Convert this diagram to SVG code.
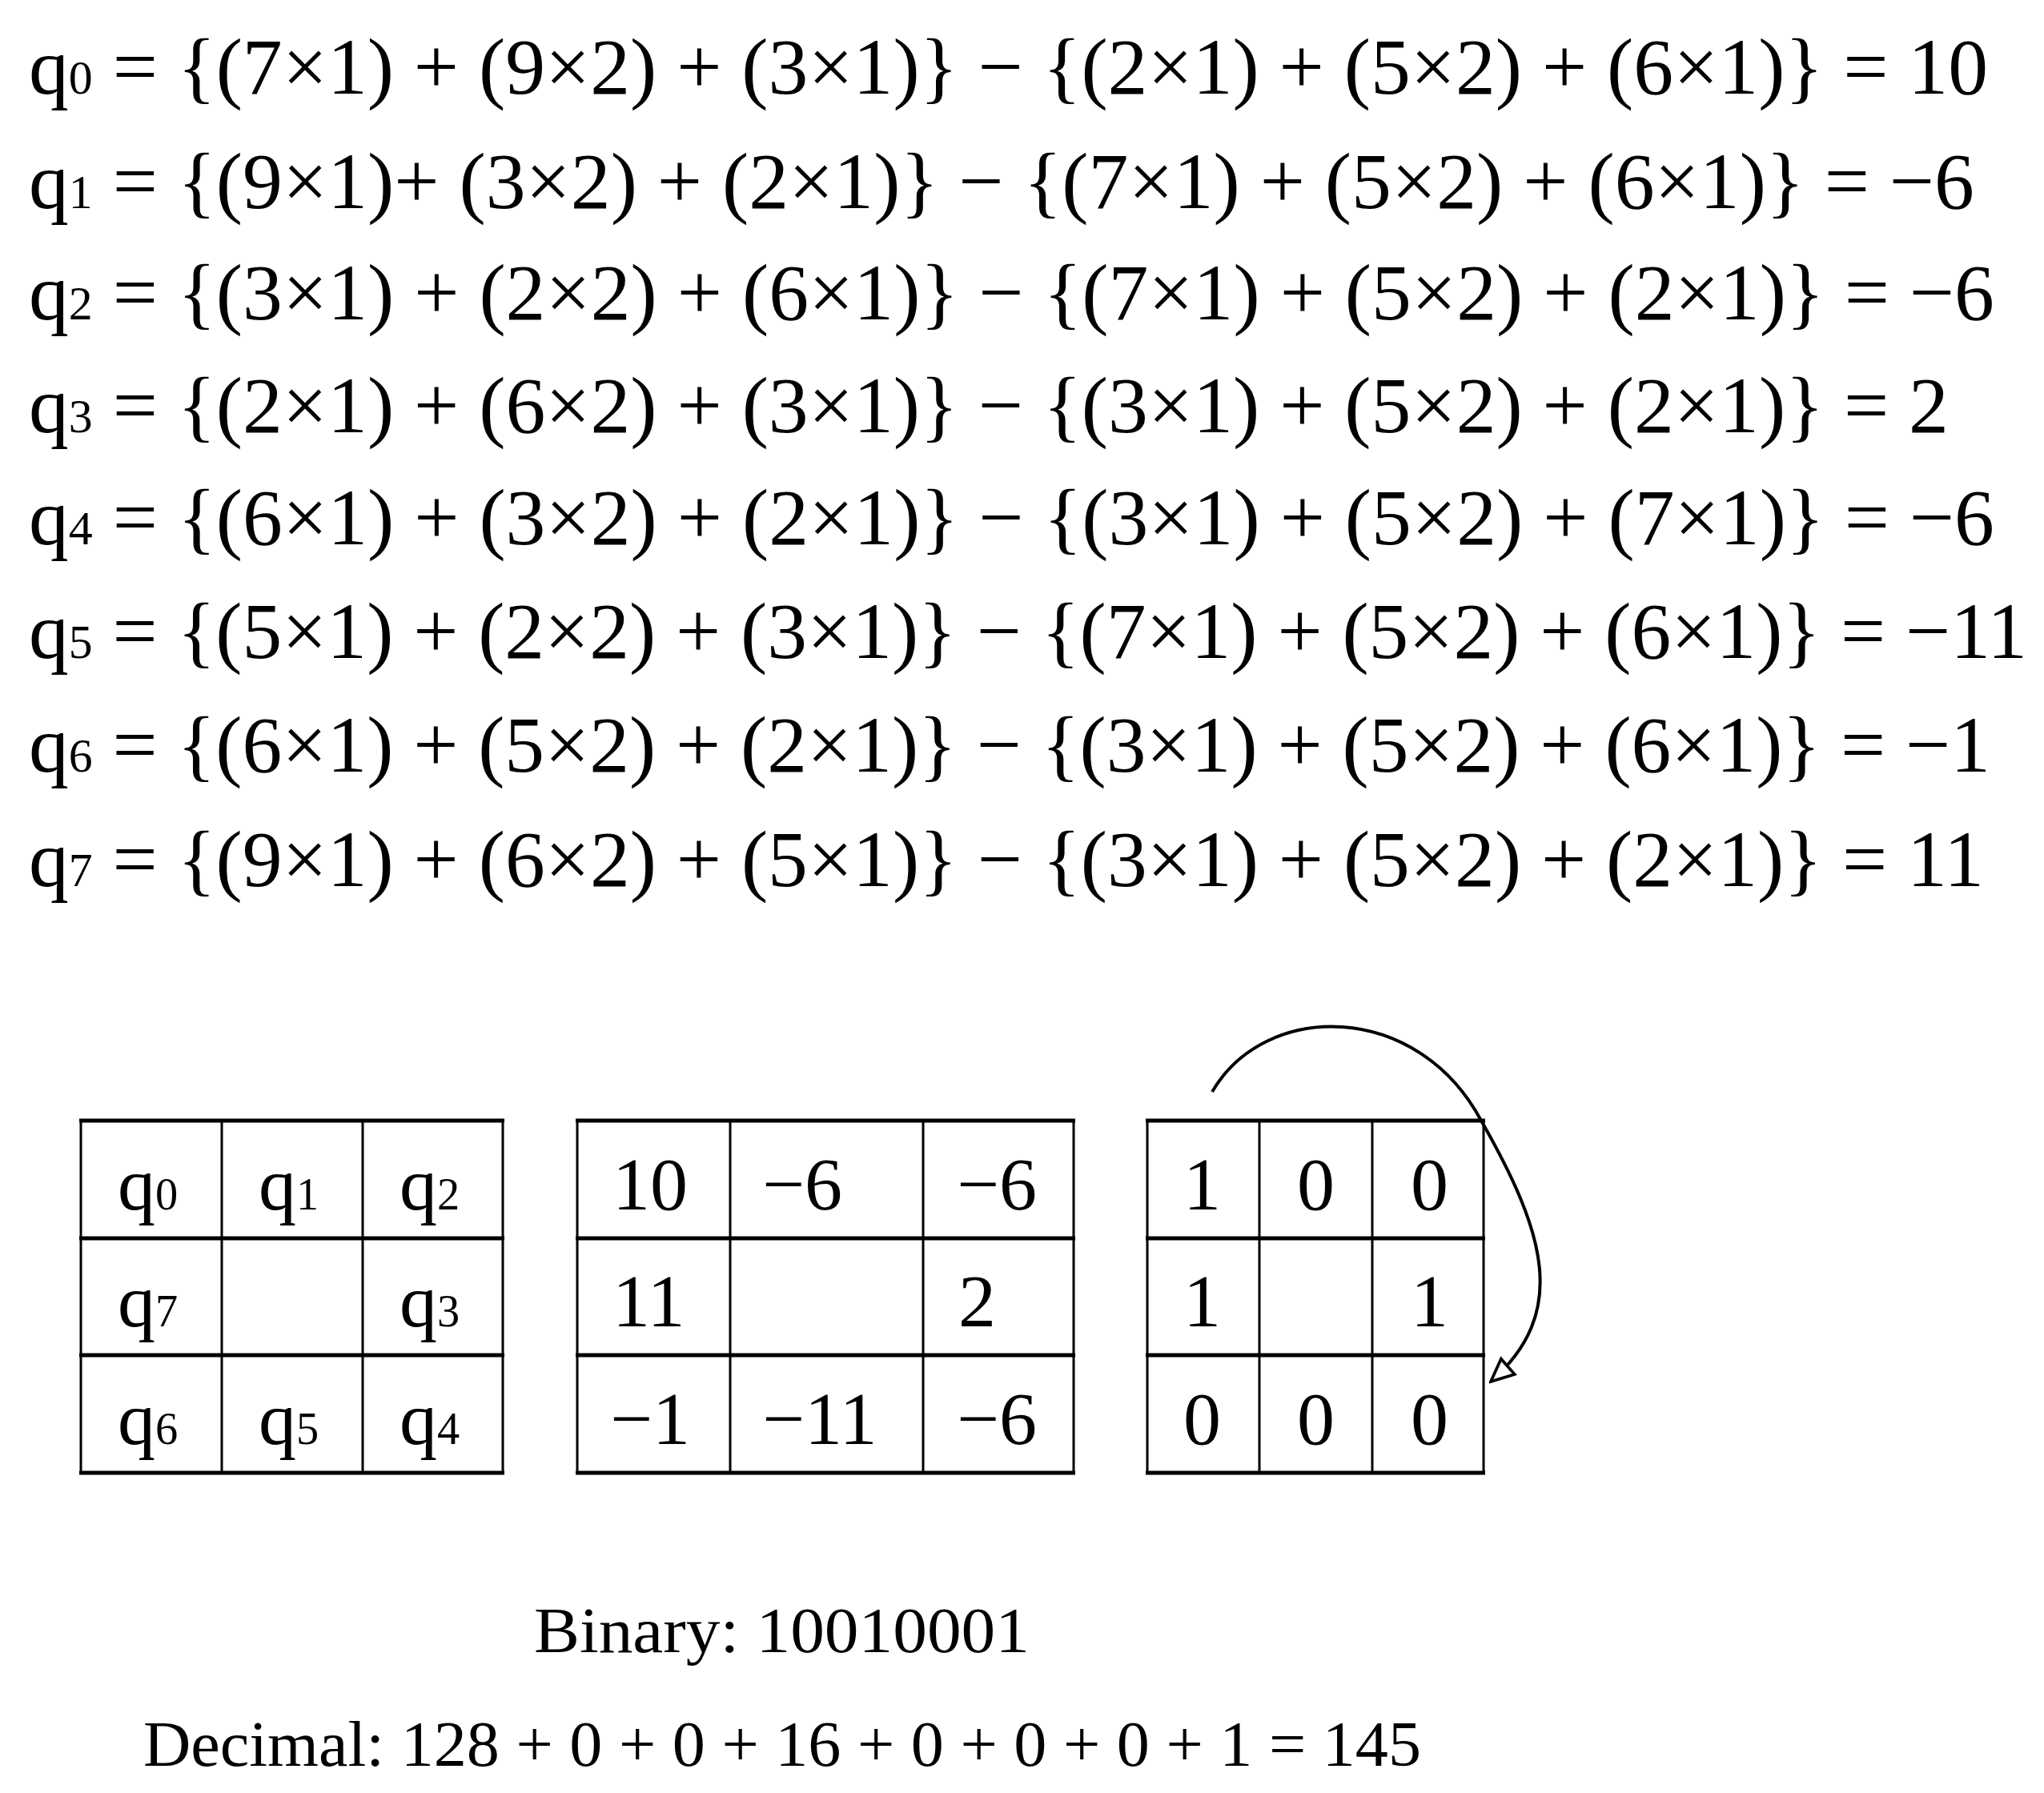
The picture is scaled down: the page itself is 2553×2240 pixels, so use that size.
<svg xmlns="http://www.w3.org/2000/svg" width="2553" height="2240" viewBox="0 0 2553 2240">
<style>
text{font-family:"Liberation Serif","DejaVu Serif",serif;fill:#000}
.eq{font-size:100px}
.c{font-size:94px}
.s{font-size:60%}
.b{font-size:80px}
.thin{stroke:#000;stroke-width:3;fill:none}
.thick{stroke:#000;stroke-width:5;fill:none}
</style>
<defs>
<marker id="ah" viewBox="0 0 12 12" refX="11" refY="6" markerWidth="34" markerHeight="34" orient="auto" markerUnits="userSpaceOnUse">
<path d="M1,1.5 L11,6 L1,10.5 Z" fill="#fff" stroke="#000" stroke-width="1.3"/>
</marker>
</defs>
<g id="equations">
<text class="eq" x="36" y="117" textLength="2447" lengthAdjust="spacingAndGlyphs">q<tspan class="s">0</tspan> = {(7×1) + (9×2) + (3×1)} − {(2×1) + (5×2) + (6×1)} = 10</text>
<text class="eq" x="36" y="260" textLength="2430" lengthAdjust="spacingAndGlyphs">q<tspan class="s">1</tspan> = {(9×1)+ (3×2) + (2×1)} − {(7×1) + (5×2) + (6×1)} = −6</text>
<text class="eq" x="36" y="399" textLength="2455" lengthAdjust="spacingAndGlyphs">q<tspan class="s">2</tspan> = {(3×1) + (2×2) + (6×1)} − {(7×1) + (5×2) + (2×1)} = −6</text>
<text class="eq" x="36" y="540" textLength="2398" lengthAdjust="spacingAndGlyphs">q<tspan class="s">3</tspan> = {(2×1) + (6×2) + (3×1)} − {(3×1) + (5×2) + (2×1)} = 2</text>
<text class="eq" x="36" y="680" textLength="2455" lengthAdjust="spacingAndGlyphs">q<tspan class="s">4</tspan> = {(6×1) + (3×2) + (2×1)} − {(3×1) + (5×2) + (7×1)} = −6</text>
<text class="eq" x="36" y="822" textLength="2496" lengthAdjust="spacingAndGlyphs">q<tspan class="s">5</tspan> = {(5×1) + (2×2) + (3×1)} − {(7×1) + (5×2) + (6×1)} = −11</text>
<text class="eq" x="36" y="964" textLength="2450" lengthAdjust="spacingAndGlyphs">q<tspan class="s">6</tspan> = {(6×1) + (5×2) + (2×1)} − {(3×1) + (5×2) + (6×1)} = −1</text>
<text class="eq" x="36" y="1107" textLength="2442" lengthAdjust="spacingAndGlyphs">q<tspan class="s">7</tspan> = {(9×1) + (6×2) + (5×1)} − {(3×1) + (5×2) + (2×1)} = 11</text>
</g>
<g id="grid-q">
<path class="thin" d="M101,1400V1840M628,1400V1840M277,1400V1840M453,1400V1840"/>
<path class="thick" d="M99,1400H630M99,1547H630M99,1693H630M99,1840H630"/>
<g class="c">
<text x="147" y="1511">q<tspan class="s">0</tspan></text>
<text x="323" y="1511">q<tspan class="s">1</tspan></text>
<text x="499" y="1511">q<tspan class="s">2</tspan></text>
<text x="147" y="1657">q<tspan class="s">7</tspan></text>
<text x="499" y="1657">q<tspan class="s">3</tspan></text>
<text x="147" y="1804">q<tspan class="s">6</tspan></text>
<text x="323" y="1804">q<tspan class="s">5</tspan></text>
<text x="499" y="1804">q<tspan class="s">4</tspan></text>
</g>
</g>
<g id="grid-values">
<path class="thin" d="M721,1400V1840M1341,1400V1840M912,1400V1840M1153,1400V1840"/>
<path class="thick" d="M719,1400H1343M719,1547H1343M719,1693H1343M719,1840H1343"/>
<g class="c">
<text x="765" y="1511">10</text>
<text x="952" y="1511">−6</text>
<text x="1195" y="1511">−6</text>
<text x="765" y="1657">11</text>
<text x="1197" y="1657">2</text>
<text x="762" y="1804">−1</text>
<text x="952" y="1804">−11</text>
<text x="1195" y="1804">−6</text>
</g>
</g>
<g id="grid-binary">
<path class="thin" d="M1433,1400V1840M1853,1400V1840M1573,1400V1840M1714,1400V1840"/>
<path class="thick" d="M1431,1400H1855M1431,1547H1855M1431,1693H1855M1431,1840H1855"/>
<g class="c">
<text x="1478" y="1511">1</text>
<text x="1620" y="1511">0</text>
<text x="1762" y="1511">0</text>
<text x="1478" y="1657">1</text>
<text x="1762" y="1657">1</text>
<text x="1478" y="1804">0</text>
<text x="1620" y="1804">0</text>
<text x="1762" y="1804">0</text>
</g>
</g>
<g id="connectors">
<path d="M1514,1364 C1580,1250 1770,1250 1850,1400 C1930,1540 1960,1640 1862,1726" fill="none" stroke="#000" stroke-width="4" marker-end="url(#ah)"/>
</g>
<g id="result">
<text class="b" x="667" y="2064" textLength="619" lengthAdjust="spacingAndGlyphs">Binary: 10010001</text>
<text class="b" x="179" y="2206" textLength="1596" lengthAdjust="spacingAndGlyphs">Decimal: 128 + 0 + 0 + 16 + 0 + 0 + 0 + 1 = 145</text>
</g>
</svg>
